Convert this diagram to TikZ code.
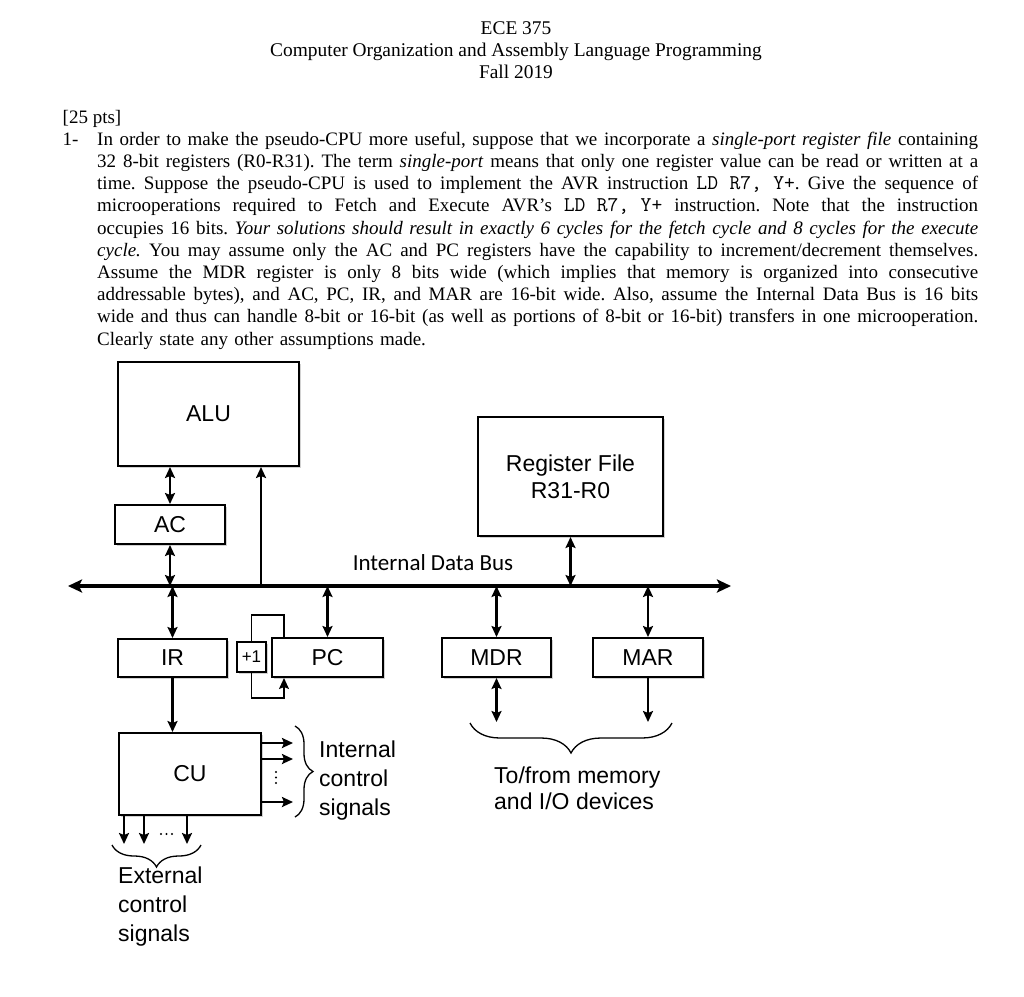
\documentclass[tikz,border=0pt]{standalone}
\usepackage{fontspec}
\setmainfont{Liberation Serif}
\newfontfamily\arialf{Liberation Sans}
\newfontfamily\calf{Carlito}
\usetikzlibrary{arrows.meta,decorations.pathreplacing,shadows}
\newcommand\jline[1]{\hbox to 881pt{\spaceskip=4.75pt plus 30pt minus 1.6pt\relax #1}}
\newcommand\code[1]{{\ttfamily\fontsize{21}{22.2}\selectfont\spaceskip=11.4pt\relax #1}}
\begin{document}
\begin{tikzpicture}[x=1pt,y=-1pt,
  >={Stealth[length=11pt,width=10pt,inset=2pt]},
  serif/.style={inner sep=0pt, font=\fontsize{19.4}{22.2}\selectfont},
  body/.style={inner sep=0pt, font=\fontsize{19}{22.2}\selectfont\frenchspacing},
  box/.style={draw, line width=2pt, fill=white, inner sep=0pt,
    font=\arialf\fontsize{23}{27}\selectfont,
    drop shadow={opacity=0.35, shadow xshift=2pt, shadow yshift=-2pt}},
  conn/.style={line width=2.2pt},
  thin/.style={line width=1.6pt},
  bus/.style={line width=3.5pt},
  brc/.style={line width=1.3pt, decorate},
  lbl/.style={inner sep=0pt, align=left, font=\arialf\fontsize{23}{29}\selectfont},
  dotm/.style={fill=black, draw=none}
]
\path[use as bounding box, fill=white] (0,0) rectangle (1024,996);

% ---------- header ----------
\node[serif, anchor=base] (h1) at (516,34) {ECE 375};
\node[serif, anchor=base] (h2) at (516,56.5) {Computer Organization and Assembly Language Programming};
\node[serif, anchor=base] (h3) at (516,78.5) {Fall 2019};

% ---------- question text ----------
\node[body, anchor=base west] (pts) at (62.5,123) {[25 pts]};
\node[body, anchor=base west] (qn) at (62.5,145) {1-};
\node[body, anchor=north west, text width=881pt] (para) at (97,129.5) {%
\jline{\strut In order to make the pseudo-CPU more useful, suppose that we incorporate a \textit{single-port register file} containing}
\jline{32 8-bit registers (R0-R31). The term \textit{single-port} means that only one register value can be read or written at a}
\jline{time. Suppose the pseudo-CPU is used to implement the AVR instruction \code{LD R7, Y+}. Give the sequence of}
\jline{microoperations required to Fetch and Execute AVR’s \code{LD R7, Y+} instruction. Note that the instruction}
\jline{occupies 16 bits. \textit{Your solutions should result in exactly 6 cycles for the fetch cycle and 8 cycles for the execute}}
\jline{\textit{cycle.} You may assume only the AC and PC registers have the capability to increment/decrement themselves.}
\jline{Assume the MDR register is only 8 bits wide (which implies that memory is organized into consecutive}
\jline{addressable bytes), and AC, PC, IR, and MAR are 16-bit wide. Also, assume the Internal Data Bus is 16 bits}
\jline{wide and thus can handle 8-bit or 16-bit (as well as portions of 8-bit or 16-bit) transfers in one microoperation.}
\hbox{Clearly state any other assumptions made.}};

% ---------- boxes ----------
\node[box, minimum width=181pt, minimum height=104pt] (alu) at (208.5,414) {ALU};
\node[box, minimum width=110pt, minimum height=39pt] (ac) at (170,524.5) {AC};
\node[box, minimum width=185pt, minimum height=119pt, align=center] (rf) at (570.5,476.5) {Register File\\R31-R0};
\node[box, minimum width=109pt, minimum height=38pt] (ir) at (172.5,658) {IR};
\node[box, minimum width=29pt, minimum height=30pt, font=\arialf\fontsize{17}{20}\selectfont] (plus) at (251.5,657) {+1};
\node[box, minimum width=111pt, minimum height=39pt] (pc) at (327.5,657.5) {PC};
\node[box, minimum width=109pt, minimum height=39pt] (mdr) at (496.5,657.5) {MDR};
\node[box, minimum width=110pt, minimum height=39pt] (mar) at (648,657.5) {MAR};
\node[box, minimum width=142pt, minimum height=82pt] (cu) at (190,774) {CU};

% ---------- bus ----------
\coordinate (busL) at (68,586);
\coordinate (busR) at (731,586);
\draw[bus, {Stealth[length=14pt,width=13pt,inset=3pt]}-{Stealth[length=14pt,width=13pt,inset=3pt]}] (busL) -- (busR);
\node[inner sep=0pt, font=\calf\fontsize{23}{26}\selectfont] (busname) at (433,563) {Internal Data Bus};

% ---------- connectors ----------
\draw[conn,<->] (ac.north) -- (ac.north |- alu.south);
\draw[conn,<->] (ac.south) -- (ac.south |- busL);
\coordinate (aluin) at (261,586);
\draw[conn,->] (aluin) -- (aluin |- alu.south);
\draw[conn,<->] (rf.south) -- (rf.south |- busL);
\draw[conn,<->] (ir.north) -- (ir.north |- busL);
\draw[conn,<->] (pc.north) -- (pc.north |- busL);
\draw[conn,<->] (mdr.north) -- (mdr.north |- busL);
\draw[conn,<->] (mar.north) -- (mar.north |- busL);
\draw[conn,->] (ir.south) -- (ir.south |- cu.north);

% +1 loop
\coordinate (lt) at (284,615);
\coordinate (lb) at (284,698);
\draw[thin] (plus.north) |- (lt) -- (lt |- pc.north);
\draw[thin,->] (plus.south) |- (lb) -- (lb |- pc.south);

% memory side
\coordinate (mdrout) at (496.5,722);
\coordinate (marout) at (648,722);
\draw[conn,<->] (mdr.south) -- (mdrout);
\draw[conn,->] (mar.south) -- (marout);
\coordinate (memL) at (470,723);
\coordinate (memR) at (672,723);
\draw[brc, decoration={brace, amplitude=30pt, mirror}] (memL) -- (memR);
\node[lbl, font=\arialf\fontsize{23}{26}\selectfont, anchor=west] (memtxt) at (494,788) {To/from memory\\and I/O devices};

% CU internal signals
\coordinate (ci1) at (293,743);
\coordinate (ci2) at (293,759);
\coordinate (ci3) at (293,802);
\draw[conn,->] (ci1 -| cu.east) -- (ci1);
\draw[conn,->] (ci2 -| cu.east) -- (ci2);
\draw[conn,->] (ci3 -| cu.east) -- (ci3);
\fill[dotm] (276,772) circle (1.2pt) (276,777.5) circle (1.2pt) (276,783) circle (1.2pt);
\coordinate (ibT) at (295,726);
\coordinate (ibB) at (295,817);
\draw[brc, decoration={brace, amplitude=18pt}] (ibT) -- (ibB);
\node[lbl, anchor=west] (inttxt) at (319,781) {Internal\\control\\signals};

% CU external signals
\coordinate (ce1) at (124,844);
\coordinate (ce2) at (144,844);
\coordinate (ce3) at (187,844);
\draw[conn,->] (ce1 |- cu.south) -- (ce1);
\draw[conn,->] (ce2 |- cu.south) -- (ce2);
\draw[conn,->] (ce3 |- cu.south) -- (ce3);
\fill[dotm] (161,834) circle (1.2pt) (166.5,834) circle (1.2pt) (172,834) circle (1.2pt);
\coordinate (ebL) at (112,845);
\coordinate (ebR) at (201,845);
\draw[brc, decoration={brace, amplitude=22pt, mirror}] (ebL) -- (ebR);
\node[lbl, anchor=west] (exttxt) at (118,907) {External\\control\\signals};
\end{tikzpicture}
\end{document}
